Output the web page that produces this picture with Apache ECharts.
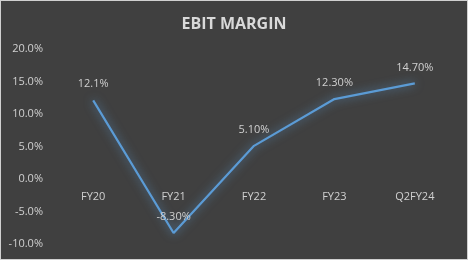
<!DOCTYPE html>
<html><head><meta charset="utf-8">
<script src="https://cdn.jsdelivr.net/npm/echarts@6/dist/echarts.min.js"></script>
<style>html,body{margin:0;padding:0;background:#404040}
#c{width:468px;height:260px;box-sizing:border-box;border:1px solid #d0d0d0;}</style>
</head><body><div id="c"></div>
<script>
const categories = ['FY20','FY21','FY22','FY23','Q2FY24'];
const values = [12.1, -8.3, 5.1, 12.3, 14.7];
const valueLabels = ['12.1%','-8.30%','5.10%','12.30%','14.70%'];
const yMin = -10, yMax = 20, yStep = 5;

const el = document.getElementById('c');
const chart = echarts.init(el, null, {renderer:'canvas'});
const font = 'Open Sans, Liberation Sans, sans-serif';
const gridTop = 48, gridBottom = 15;
const plotH = el.clientHeight - gridTop - gridBottom;
const zeroOffset = -plotH * (0 - yMin) / (yMax - yMin);
chart.setOption({
  backgroundColor:'#404040',
  animation:false,
  title:{text:'EBIT MARGIN', left:'center', top:10,
    textStyle:{color:'#d9d9d9', fontSize:16, fontWeight:'bold', fontFamily:font}},
  grid:{left:52, right:12, top:gridTop, bottom:gridBottom, outerBoundsMode:'none', containLabel:false},
  xAxis:{type:'category', data:categories, boundaryGap:true, offset:zeroOffset,
    axisLine:{show:false, onZero:false},
    axisTick:{show:false},
    axisLabel:{color:'#d0d0d0', fontSize:11, fontFamily:font, margin:12},
    splitLine:{show:false}},
  yAxis:{type:'value', min:yMin, max:yMax, interval:yStep,
    axisLine:{show:false}, axisTick:{show:false}, splitLine:{show:false},
    axisLabel:{color:'#d0d0d0', fontSize:11, fontFamily:font, margin:10,
      formatter:v=>v.toFixed(1)+'%'}},
  series:[{type:'line', data:values, symbol:'circle', symbolSize:1, showSymbol:true,
    itemStyle:{color:'rgba(0,0,0,0)'},
    lineStyle:{color:'#5b9bd5', width:2.2, shadowBlur:10, shadowColor:'rgba(91,155,213,0.8)'},
    label:{show:true, position:'top', distance:10, color:'#d0d0d0', fontSize:11, fontFamily:font,
      formatter:p=>valueLabels[p.dataIndex]}}]
});
</script></body></html>
